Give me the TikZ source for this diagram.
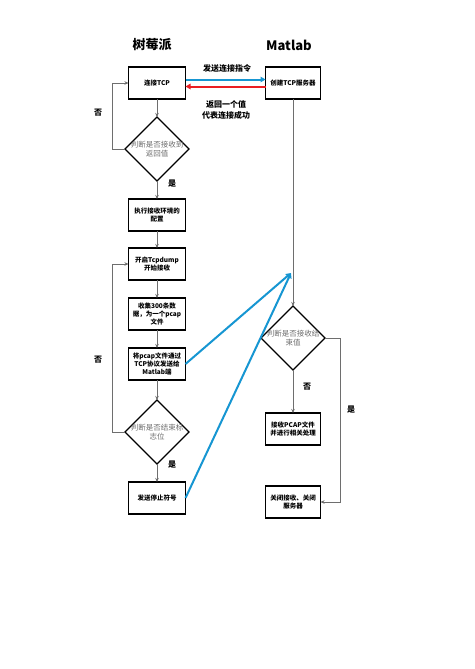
\documentclass[tikz,border=0pt]{standalone}
\usepackage{fontspec}
\setmainfont{Noto Sans CJK SC}
\usepackage{tikz}
\usetikzlibrary{shapes.geometric, positioning, arrows.meta}
\definecolor{linkblue}{RGB}{22,150,210}
\definecolor{linkred}{RGB}{235,30,35}
\definecolor{flowgray}{RGB}{110,110,110}

\begin{document}
\begin{tikzpicture}[x=1pt, y=1pt, >={Stealth[length=4pt,width=3.5pt]}, node distance=18pt,
    proc/.style={draw, line width=1.1pt, minimum width=57pt, minimum height=32pt, inner sep=1pt, outer sep=0pt, align=center, font=\fontsize{6.5}{8}\selectfont\bfseries},
    decide/.style={draw, diamond, line width=1.1pt, minimum width=64pt, minimum height=64pt, inner sep=0pt, outer sep=0pt},
    dtext/.style={text=flowgray, align=center, font=\fontsize{7.5}{9.5}\selectfont},
    flow/.style={->, draw=flowgray, line width=0.9pt},
    link/.style={->, line width=2pt, >={Triangle[length=5pt,width=5.5pt]}},
    tag/.style={align=center, font=\fontsize{8}{10.5}\selectfont\bfseries},
    head/.style={font=\fontsize{13}{15}\selectfont\bfseries}]
    \useasboundingbox[fill=white] (0,0) rectangle (474,-669);

    % column heads
    \node[head] (rpi) at (152,-45) {树莓派};
    \node[head] (mat) at (289,-45) {Matlab};

    % Raspberry Pi side
    \node[proc] (tcp) at (157,-83) {连接TCP};
    \node[decide, below=of tcp, label={[dtext]center:判断是否接收到\\返回值}] (ack) {};
    \node[proc] (cfg) [below=of ack] {执行接收环境的\\配置};
    \node[proc] (dump) [below=17pt of cfg] {开启Tcpdump\\开始接收};
    \node[proc] (pcap) [below=of dump] {收集300条数\\据，为一个pcap\\文件};
    \node[proc] (send) [below=of pcap] {将pcap文件通过\\TCP协议发送给\\Matlab端};
    \node[decide, below=20pt of send, label={[dtext]center:判断是否结束标\\志位}] (fin) {};
    \node[proc] (stop) [below=of fin] {发送停止符号};

    % Matlab side
    \node[proc, minimum width=55pt] (srv) at (293,-83) {创建TCP服务器};
    \node[decide, label={[dtext]center:判断是否接收结\\束值}] (endq) at (293,-338) {};
    \node[proc, minimum width=55pt] (recv) [below=43pt of endq] {接收PCAP文件\\并进行相关处理};
    \node[proc, minimum width=55pt] (close) [below=41pt of recv] {关闭接收、关闭\\服务器};

    \draw[flow] (tcp) -- (ack);
    \draw[flow] (ack) -- (cfg);
    \draw[flow] (cfg) -- (dump);
    \draw[flow] (dump) -- (pcap);
    \draw[flow] (pcap) -- (send);
    \draw[flow] (send) -- (fin);
    \draw[flow] (fin) -- (stop);
    \draw[flow] (ack.west) -- ++(-13,0) |- (tcp.west);
    \draw[flow] (fin.west) -- ++(-13,0) |- (dump.west);
    \draw[flow] (srv) -- (endq);
    \draw[flow] (endq) -- (recv);
    \draw[flow] (endq.east) -- ++(15,0) |- (close.east);

    % links between the two sides
    \coordinate (hit) at (291,-273);
    \draw[link, linkblue] ([yshift=3.5pt]tcp.east) -- ([yshift=3.5pt]srv.west);
    \draw[link, linkred] ([yshift=-3.5pt]srv.west) -- ([yshift=-3.5pt]tcp.east);
    \draw[link, linkblue] (send.east) -- (hit);
    \draw[link, linkblue] (stop.east) -- (hit);

    \node[tag] (cmd) at (227,-68) {发送连接指令};
    \node[tag] (back) at (226,-110) {返回一个值\\代表连接成功};
    \node[tag] (no1) at (98,-113) {否};
    \node[tag] (yes1) at (172,-184) {是};
    \node[tag] (no2) at (98,-360) {否};
    \node[tag] (yes2) at (172,-465) {是};
    \node[tag] (no3) at (307,-387) {否};
    \node[tag] (yes3) at (351,-410) {是};
\end{tikzpicture}
\end{document}
